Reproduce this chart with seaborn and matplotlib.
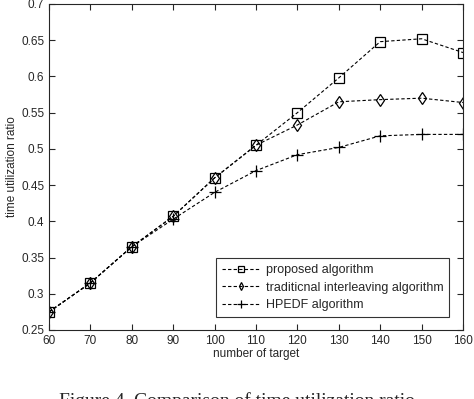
import matplotlib
matplotlib.use("Agg")
import matplotlib.pyplot as plt
import seaborn as sns

targets = [60, 70, 80, 90, 100, 110, 120, 130, 140, 150, 160]
proposed = [0.275, 0.315, 0.365, 0.407, 0.460, 0.505, 0.550, 0.598, 0.648, 0.652, 0.633]
traditional = [0.275, 0.315, 0.365, 0.407, 0.460, 0.505, 0.533, 0.565, 0.568, 0.570, 0.564]
hpedf = [0.275, 0.315, 0.365, 0.403, 0.440, 0.470, 0.492, 0.502, 0.518, 0.520, 0.520]
names = ["proposed algorithm", "traditicnal interleaving algorithm", "HPEDF algorithm"]
markers = ["s", "d", "+"]
msizes = [7, 6, 8]

sns.set_style("ticks")
plt.rcParams['font.family'] = ['Liberation Sans', 'DejaVu Sans']

fig = plt.figure(figsize=(4.74, 3.99), dpi=100)
ax = fig.add_axes([49 / 474, 1 - 330 / 399, 414 / 474, 326 / 399])

for vals, name, m, ms in zip([proposed, traditional, hpedf], names, markers, msizes):
    sns.lineplot(x=targets, y=vals, ax=ax, label=name, color="black",
                 linewidth=0.8, marker=m, markersize=ms,
                 markerfacecolor="none", markeredgecolor="black",
                 markeredgewidth=0.9)
for line in ax.get_lines():
    line.set_dashes((3, 2))

ax.set_xlim(60, 160)
ax.set_ylim(0.25, 0.7)
ax.set_xticks(range(60, 161, 10))
ax.set_yticks([0.25, 0.3, 0.35, 0.4, 0.45, 0.5, 0.55, 0.6, 0.65, 0.7])
ax.set_yticklabels(["0.25", "0.3", "0.35", "0.4", "0.45", "0.5", "0.55", "0.6", "0.65", "0.7"])
ax.tick_params(direction="in", top=True, right=True, labelsize=8.5, length=4, width=0.8)
for s in ax.spines.values():
    s.set_linewidth(0.8)
ax.set_xlabel("number of target", fontsize=8.5, labelpad=1)
ax.set_ylabel("time utilization ratio", fontsize=8.5, labelpad=2)

leg = ax.legend(loc="lower right", bbox_to_anchor=(0.966, 0.04), borderaxespad=0,
                fontsize=9, frameon=True, fancybox=False, edgecolor="black",
                handlelength=3.0, handletextpad=0.5, borderpad=0.45, labelspacing=0.45,
                markerscale=0.7)
leg.get_frame().set_linewidth(0.8)
for h in leg.get_lines():
    h.set_dashes((3, 2))

fig.text(0.5, 1 - 392 / 399, "Figure 4. Comparison of time utilization ratio",
         ha="center", va="top", fontsize=14, family="Liberation Serif")

fig.savefig("out.png", dpi=100)
